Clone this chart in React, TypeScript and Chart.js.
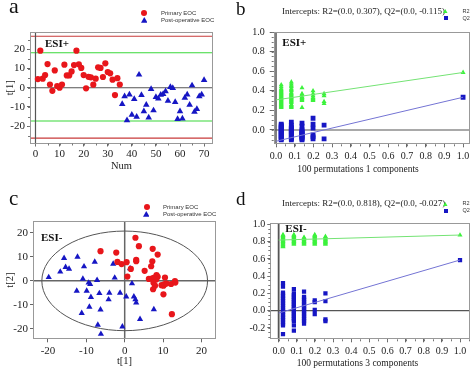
import React, { useEffect, useRef } from "react";
import { Chart, registerables } from "chart.js";
Chart.register(...registerables);

const SERIF = "'Liberation Serif', 'Times New Roman', serif";
const SANS = "'Liberation Sans', Arial, sans-serif";
const RED = "#e8161b";
const BLUE = "#1616c4";
const GREEN = "#3cf23c";
const GREEN_LINE = "#74e374";
const BLUE_LINE = "#7474d4";

// ---------- Panel a (ESI+ score plot) ----------
const aPrimaryNum = [1,2,3,4,5,6,7,8,9,10,11,12,13,14,15,16,17,18,19,20,21,22,23,24,25,26,27,28,29,30,31,32,33,34,35];
const aPrimaryT1 = [4.5,19.3,4.7,6.6,12.3,1.7,-1.6,9.0,0.9,0.0,1.7,12.0,6.4,6.4,8.5,11.8,19.3,12.2,10.3,6.6,-0.3,5.7,5.4,1.6,4.7,10.6,10.3,5.6,12.7,8.2,7.5,4.2,-3.8,5.0,1.7];
const aPostNum = [36,37,38,39,40,41,42,43,44,45,46,47,48,49,50,51,52,53,54,55,56,57,58,59,60,61,62,63,64,65,66,67,68,69,70];
const aPostT1 = [-8.5,-4.5,-16.9,-3.5,-14.1,-5.9,-15.1,6.8,-3.8,-12.3,-8.9,-15.5,-0.7,-11.8,-4.9,-5.6,-3.7,-3.3,-1.9,-6.8,0.3,-0.2,-7.5,-16.3,-12.3,-16.0,-5.2,-3.5,-8.9,1.2,-12.5,-11.1,-4.5,-3.5,4.0];
const aLimit99 = [26.8, -26.2];
const aLimit95 = [18.2, -17.3];

// ---------- Panel b (ESI+ permutations) ----------
const bPermX = [0.028, 0.082, 0.139, 0.198, 0.257];
const bR2Perm = [
  [0.46,0.44,0.42,0.41,0.40,0.39,0.38,0.37,0.36,0.35,0.34,0.33,0.32,0.31,0.30,0.29,0.28,0.27,0.26,0.25,0.24,0.23],
  [0.49,0.47,0.45,0.44,0.42,0.41,0.40,0.38,0.37,0.36,0.35,0.34,0.33,0.32,0.31,0.30,0.29,0.28,0.26,0.25,0.24,0.23],
  [0.43,0.37,0.36,0.34,0.33,0.32,0.31,0.30,0.23],
  [0.40,0.37,0.35,0.33,0.32,0.31,0.30],
  [0.37,0.35,0.29,0.27],
];
const bQ2Perm = [
  [0.06,0.05,0.04,0.03,0.02,0.01,0.0,-0.01,-0.02,-0.03,-0.04,-0.05,-0.06,-0.07,-0.08,-0.09,-0.10],
  [0.08,0.05,0.03,0.02,0.01,0.0,-0.01,-0.02,-0.03,-0.04,-0.05,-0.06,-0.07,-0.08,-0.09,-0.10],
  [0.07,0.04,0.0,-0.01,-0.02,-0.03,-0.04,-0.05,-0.06,-0.07,-0.08,-0.09,-0.10],
  [0.12,0.06,0.02,-0.05,-0.07,-0.09],
  [0.05,-0.09],
];
const bR2Model = 0.587;
const bQ2Model = 0.334;
const bR2Intercept = 0.307;
const bQ2Intercept = -0.115;

// ---------- Panel c (ESI- score plot) ----------
const cPrimaryT1 = [2.8,-6.3,-2.2,3.7,7.3,8.6,-1.9,-0.8,0.5,3.0,3.0,7.2,6.9,1.6,5.2,0.7,6.3,7.2,7.7,8.3,8.6,8.2,10.5,7.5,7.9,7.4,9.6,10.1,10.4,10.9,12.1,13.1,13.2,10.1,12.3];
const cPrimaryT2 = [18.0,12.4,11.8,14.5,13.4,11.0,7.9,7.0,7.8,8.8,8.2,8.2,6.1,5.0,4.2,1.8,0.8,1.1,1.4,2.4,1.7,0.6,1.4,-0.8,-2.0,-3.5,-1.8,-2.0,-1.4,-1.1,-1.3,-0.1,-0.7,-5.6,-13.9];
const cPostT1 = [-19.8,-16.8,-15.8,-15.4,-14.5,-12.3,-10.6,-7.8,-3.0,1.4,-10.9,-9.4,-9.0,-7.2,-2.6,1.9,-12.5,-9.9,-8.8,-6.6,-4.0,-1.2,-4.2,-9.2,-11.2,-6.3,-7.0,-6.2,-0.6,0.4,2.4,2.8,3.0,4.0,7.6];
const cPostT2 = [1.5,3.8,9.5,5.7,5.0,10.0,6.0,7.9,7.1,5.2,0.8,-0.8,-1.4,0.3,1.3,-1.1,-4.2,-4.2,-6.8,-5.2,-5.0,-5.0,-7.8,-10.9,-13.5,-12.0,-18.4,-22.2,-19.1,-6.6,-6.6,-7.8,-9.1,-16.0,-11.9];
const cEllipse = [21.6, 20.8];

// ---------- Panel d (ESI- permutations) ----------
const dPermX = [0.024, 0.084, 0.14, 0.199, 0.258];
const dR2Perm = [
  [0.88,0.87,0.86,0.85,0.84,0.83,0.82,0.81,0.80,0.79,0.78,0.77,0.76,0.75,0.74],
  [0.88,0.87,0.86,0.85,0.84,0.83,0.82,0.81,0.80,0.79,0.78,0.77],
  [0.85,0.84,0.83,0.82,0.81,0.80,0.79,0.78,0.77],
  [0.88,0.87,0.86,0.85,0.84,0.83,0.82,0.81,0.80,0.79,0.78,0.77],
  [0.86,0.85,0.84,0.83,0.82,0.81,0.80,0.79,0.78,0.77],
];
const dQ2Perm = [
  [0.32,0.28,0.21,0.19,0.17,0.15,0.13,0.11,0.09,0.07,0.05,0.03,0.01,-0.01,-0.03,-0.05,-0.07,-0.09,-0.11,-0.13,-0.15,-0.17,-0.27],
  [0.25,0.20,0.18,0.16,0.14,0.12,0.10,0.08,0.06,0.04,0.02,0.0,-0.02,-0.04,-0.06,-0.08,-0.10,-0.12,-0.17,-0.23],
  [0.22,0.16,0.14,0.12,0.10,0.08,0.06,0.04,0.02,0.0,-0.02,-0.04,-0.06,-0.08,-0.10,-0.12,-0.15],
  [0.12,0.10,0.01,-0.04],
  [0.20,0.11,-0.10,-0.12],
];
const dR2Model = 0.876;
const dQ2Model = 0.587;
const dR2Intercept = 0.818;
const dQ2Intercept = -0.027;

// ---------- helpers ----------
const overlay = {
  id: "overlay",
  beforeDatasetsDraw(chart: any, _a: any, opts: any) {
    const { ctx, chartArea: ca, scales } = chart;
    const x = scales.x, y = scales.y;
    ctx.save();
    ctx.beginPath();
    ctx.rect(ca.left, ca.top, ca.right - ca.left, ca.bottom - ca.top);
    ctx.clip();
    for (const h of opts.hLines || []) {
      const py = y.getPixelForValue(h.value);
      ctx.strokeStyle = h.color; ctx.lineWidth = h.width;
      ctx.beginPath(); ctx.moveTo(ca.left, py); ctx.lineTo(ca.right, py); ctx.stroke();
    }
    for (const v of opts.vLines || []) {
      const px = x.getPixelForValue(v.value);
      ctx.strokeStyle = v.color; ctx.lineWidth = v.width;
      ctx.beginPath(); ctx.moveTo(px, ca.top); ctx.lineTo(px, ca.bottom); ctx.stroke();
    }
    if (opts.ellipse) {
      const cx = x.getPixelForValue(0), cy = y.getPixelForValue(0);
      const rx = x.getPixelForValue(opts.ellipse[0]) - cx;
      const ry = cy - y.getPixelForValue(opts.ellipse[1]);
      ctx.strokeStyle = "#555"; ctx.lineWidth = 1;
      ctx.beginPath(); ctx.ellipse(cx, cy, rx, ry, 0, 0, Math.PI * 2); ctx.stroke();
    }
    ctx.restore();
    ctx.save();
    ctx.strokeStyle = opts.frame || "#999"; ctx.lineWidth = 1;
    ctx.strokeRect(Math.round(ca.left) + 0.5, Math.round(ca.top) + 0.5, Math.round(ca.right - ca.left) - 1, Math.round(ca.bottom - ca.top) - 1);
    // minor ticks
    ctx.strokeStyle = "#777";
    if (opts.minorX) {
      const st = opts.minorX;
      for (let v = Math.ceil(x.min / st) * st; v <= x.max + 1e-9; v += st) {
        const px = Math.round(x.getPixelForValue(v)) + 0.5;
        ctx.beginPath(); ctx.moveTo(px, ca.bottom); ctx.lineTo(px, ca.bottom + 2); ctx.stroke();
      }
    }
    if (opts.minorY) {
      const st = opts.minorY;
      for (let v = Math.ceil(y.min / st) * st; v <= y.max + 1e-9; v += st) {
        const py = Math.round(y.getPixelForValue(v)) + 0.5;
        ctx.beginPath(); ctx.moveTo(ca.left - 2, py); ctx.lineTo(ca.left, py); ctx.stroke();
      }
    }
    ctx.restore();
  },
};

function axis(min: number, max: number, step: number, fixedSize: number, horizontal: boolean, fmt: (v: number) => string, extra: any = {}) {
  return {
    type: "linear",
    min, max,
    afterFit: (s: any) => { if (horizontal) s.height = fixedSize; else s.width = fixedSize; },
    ticks: {
      stepSize: step, includeBounds: false, autoSkip: false, maxRotation: 0,
      font: { family: SERIF, size: extra.tickSize || 10 }, color: "#222",
      padding: extra.tickPad ?? 2,
      callback: (v: any) => fmt(Number(v)),
    },
    grid: { drawOnChartArea: false, drawTicks: true, tickLength: extra.tickLen ?? 3, color: "#666" },
    border: { display: false },
    title: extra.title || { display: false },
  };
}

const int = (v: number) => String(Math.round(v));
const one = (v: number) => (Math.abs(v) < 1e-9 ? 0 : v).toFixed(1);

function baseOptions(padTop: number, padRight: number, scales: any, ov: any) {
  return {
    animation: false, responsive: false, events: [],
    layout: { padding: { left: 0, top: padTop, right: padRight, bottom: 0 } },
    plugins: { legend: { display: false }, tooltip: { enabled: false }, title: { display: false }, overlay: ov },
    scales,
  };
}

function permDatasets(px: number[], r2: number[][], q2: number[][], r2m: number, q2m: number, r2i: number, q2i: number, tri: number, sq: number) {
  const r2Pts = px.flatMap((x, i) => r2[i].map((v) => ({ x, y: v }))).concat([{ x: 1, y: r2m }]);
  const q2Pts = px.flatMap((x, i) => q2[i].map((v) => ({ x, y: v }))).concat([{ x: 1, y: q2m }]);
  return [
    { label: "R2 line", data: [{ x: 0, y: r2i }, { x: 1, y: r2m }], showLine: true, pointRadius: 0, borderColor: GREEN_LINE, borderWidth: 1 },
    { label: "Q2 line", data: [{ x: 0, y: q2i }, { x: 1, y: q2m }], showLine: true, pointRadius: 0, borderColor: BLUE_LINE, borderWidth: 1 },
    { label: "R2", data: r2Pts, pointStyle: "triangle", pointRadius: tri, backgroundColor: GREEN, borderColor: GREEN, borderWidth: 0 },
    { label: "Q2", data: q2Pts, pointStyle: "rect", pointRadius: sq, backgroundColor: BLUE, borderColor: BLUE, borderWidth: 0 },
  ];
}

const W = 237, H = 185;

function configA() {
  return {
    type: "scatter",
    data: {
      datasets: [
        { label: "Primary EOC", data: aPrimaryNum.map((n, i) => ({ x: n, y: aPrimaryT1[i] })), pointStyle: "circle", pointRadius: 3.1, backgroundColor: RED, borderColor: RED, borderWidth: 0 },
        { label: "Post-operative EOC", data: aPostNum.map((n, i) => ({ x: n, y: aPostT1[i] })), pointStyle: "triangle", pointRadius: 3.8, backgroundColor: BLUE, borderColor: BLUE, borderWidth: 0 },
      ],
    },
    options: baseOptions(32, W - 213, {
      x: axis(-2.28, 73.7, 10, H - 143.5, true, int, { tickSize: 11, tickPad: 1, title: { display: true, text: "Num", font: { family: SERIF, size: 10.5 }, color: "#222", padding: { top: 0, bottom: 12.5 } } }),
      y: axis(-29.0, 29.0, 10, 30, false, int, { tickSize: 11, title: { display: true, text: "t[1]", font: { family: SERIF, size: 10.5 }, color: "#222", padding: { top: 3.5, bottom: 0 } } }),
    }, {
      hLines: [
        { value: aLimit99[0], color: "#c83a3a", width: 1.2 }, { value: aLimit99[1], color: "#c83a3a", width: 1.2 },
        { value: aLimit95[0], color: "#3ad83a", width: 1.2 }, { value: aLimit95[1], color: "#3ad83a", width: 1.2 },
        { value: 0, color: "#555", width: 1.2 },
      ],
      vLines: [{ value: 0, color: "#555", width: 1.2 }],
      minorX: 5, minorY: 5,
    }),
    plugins: [overlay],
  };
}

function configB() {
  return {
    type: "scatter",
    data: { datasets: permDatasets(bPermX, bR2Perm, bQ2Perm, bR2Model, bQ2Model, bR2Intercept, bQ2Intercept, 2.9, 3.4) },
    options: baseOptions(32, W - 233, {
      x: axis(-0.0123, 1.037, 0.1, H - 144.3, true, one, { tickPad: 3 }),
      y: axis(-0.146, 1.0, 0.2, 36.7, false, one, { tickLen: 4, tickPad: 5 }),
    }, {
      hLines: [{ value: 0, color: "#555", width: 1.2 }],
      vLines: [{ value: 0, color: "#555", width: 1.5 }],
      minorX: 0.05, minorY: 0.05,
    }),
    plugins: [overlay],
  };
}

function configC() {
  return {
    type: "scatter",
    data: {
      datasets: [
        { label: "Primary EOC", data: cPrimaryT1.map((v, i) => ({ x: v, y: cPrimaryT2[i] })), pointStyle: "circle", pointRadius: 3.1, backgroundColor: RED, borderColor: RED, borderWidth: 0 },
        { label: "Post-operative EOC", data: cPostT1.map((v, i) => ({ x: v, y: cPostT2[i] })), pointStyle: "triangle", pointRadius: 3.6, backgroundColor: BLUE, borderColor: BLUE, borderWidth: 0 },
      ],
    },
    options: baseOptions(36, W - 216, {
      x: axis(-23.9, 23.8, 10, H - 154.3, true, int, { tickSize: 11, tickPad: 2, title: { display: true, text: "t[1]", font: { family: SERIF, size: 10.5 }, color: "#222", padding: { top: 0, bottom: 2.5 } } }),
      y: axis(-24.4, 25.0, 10, 33, false, int, { tickSize: 11, title: { display: true, text: "t[2]", font: { family: SERIF, size: 10.5 }, color: "#222", padding: { top: 4, bottom: 0 } } }),
    }, {
      hLines: [{ value: 0, color: "#666", width: 1.5 }],
      vLines: [{ value: 0, color: "#666", width: 1.5 }],
      ellipse: cEllipse,
    }),
    plugins: [overlay],
  };
}

function configD() {
  return {
    type: "scatter",
    data: { datasets: permDatasets(dPermX, dR2Perm, dQ2Perm, dR2Model, dQ2Model, dR2Intercept, dQ2Intercept, 2.9, 3.0) },
    options: baseOptions(38.3, W - 234, {
      x: axis(-0.046, 1.055, 0.1, H - 154.3, true, one, { tickPad: 3 }),
      y: axis(-0.331, 1.012, 0.2, 33.3, false, one, { tickLen: 3, tickPad: 2 }),
    }, {
      hLines: [{ value: 0, color: "#555", width: 1.2 }],
      vLines: [{ value: 0, color: "#555", width: 1.8 }],
      minorX: 0.05, minorY: 0.05,
    }),
    plugins: [overlay],
  };
}

function ChartCanvas({ left, top, make }: { left: number; top: number; make: () => any }) {
  const ref = useRef<HTMLCanvasElement>(null);
  useEffect(() => {
    const c = new Chart(ref.current as HTMLCanvasElement, make());
    return () => c.destroy();
  }, []);
  return <canvas ref={ref} width={W} height={H} style={{ position: "absolute", left, top, width: W, height: H }} />;
}

function Txt({ text, x, base, size, family = SERIF, bold = false, center = false, color = "#111" }: any) {
  return (
    <div style={{
      position: "absolute", left: x, top: base - 0.84 * size, fontSize: size, lineHeight: 1,
      fontFamily: family, fontWeight: bold ? "bold" : "normal", whiteSpace: "nowrap", color,
      transform: center ? "translateX(-50%)" : undefined,
    }}>{text}</div>
  );
}

function Marker({ kind, cx, cy, size, color }: any) {
  const s = size;
  let shape;
  if (kind === "circle") shape = <circle cx={s / 2} cy={s / 2} r={s / 2} fill={color} />;
  else if (kind === "triangle") shape = <polygon points={`${s / 2},0 ${s},${s * 0.87} 0,${s * 0.87}`} fill={color} />;
  else shape = <rect x={0} y={0} width={s} height={s} fill={color} />;
  return (
    <svg width={s} height={s} style={{ position: "absolute", left: cx - s / 2, top: cy - s / 2 }}>{shape}</svg>
  );
}

export default function App() {
  return (
    <div style={{ position: "absolute", left: 0, top: 0, width: 474, height: 370, background: "#fff", overflow: "hidden" }}>
      <ChartCanvas left={0} top={0} make={configA} />
      <ChartCanvas left={237} top={0} make={configB} />
      <ChartCanvas left={0} top={185} make={configC} />
      <ChartCanvas left={237} top={185} make={configD} />

      <Txt text="a" x={9} base={13} size={22} />
      <Txt text="b" x={236} base={15} size={19} />
      <Txt text="c" x={9} base={206} size={21} />
      <Txt text="d" x={236} base={205} size={19} />

      <Txt text="ESI+" x={45} base={47.3} size={11} bold />
      <Txt text="ESI+" x={282.3} base={46.7} size={11} bold />
      <Txt text="ESI-" x={41} base={241.7} size={11} bold />
      <Txt text="ESI-" x={285.3} base={232.3} size={11} bold />

      <Marker kind="circle" cx={144} cy={13} size={6} color={RED} />
      <Txt text="Primary EOC" x={161} base={15.2} size={6} family={SANS} color="#333" />
      <Marker kind="triangle" cx={144} cy={20.5} size={6.5} color={BLUE} />
      <Txt text="Post-operative EOC" x={161} base={22.2} size={6} family={SANS} color="#333" />

      <Marker kind="circle" cx={146.7} cy={206.7} size={6} color={RED} />
      <Txt text="Primary EOC" x={163} base={209} size={6} family={SANS} color="#333" />
      <Marker kind="triangle" cx={146} cy={214} size={6.5} color={BLUE} />
      <Txt text="Post-operative EOC" x={163} base={216} size={6} family={SANS} color="#333" />

      <Txt text="Intercepts: R2=(0.0, 0.307), Q2=(0.0, -0.115)" x={282} base={14.7} size={9} color="#222" />
      <Marker kind="triangle" cx={445.7} cy={11.7} size={4.5} color={GREEN} />
      <Marker kind="rect" cx={445.7} cy={18.3} size={4} color={BLUE} />
      <Txt text="R2" x={462.5} base={13.8} size={5.5} family={SANS} color="#333" />
      <Txt text="Q2" x={462.5} base={21} size={5.5} family={SANS} color="#333" />
      <Txt text="100 permutations 1 components" x={358} base={172.5} size={9.5} center color="#222" />

      <Txt text="Intercepts: R2=(0.0, 0.818), Q2=(0.0, -0.027)" x={282} base={206.3} size={9} color="#222" />
      <Marker kind="triangle" cx={445.7} cy={204} size={4.5} color={GREEN} />
      <Marker kind="rect" cx={445.7} cy={210.7} size={4} color={BLUE} />
      <Txt text="R2" x={462.5} base={205.8} size={5.5} family={SANS} color="#333" />
      <Txt text="Q2" x={462.5} base={213} size={5.5} family={SANS} color="#333" />
      <Txt text="100 permutations 3 components" x={357.5} base={366.5} size={9.5} center color="#222" />
    </div>
  );
}
